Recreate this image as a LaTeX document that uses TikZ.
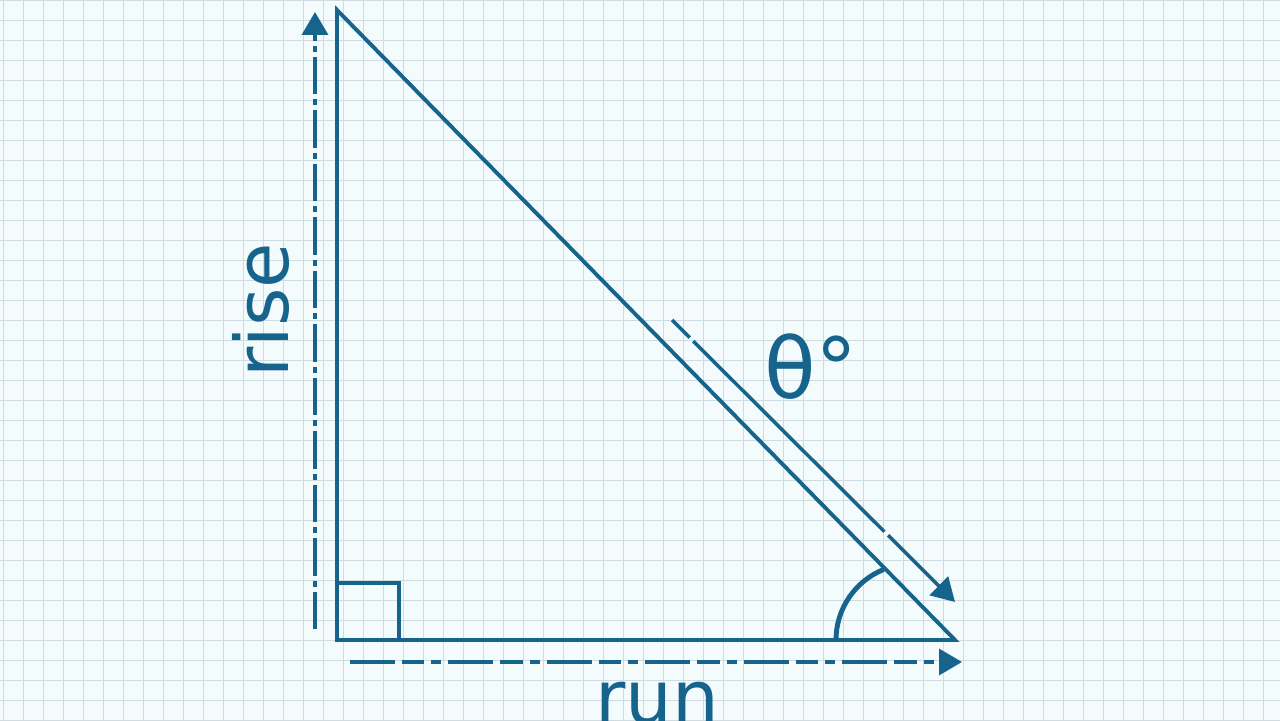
\documentclass[tikz,border=0pt]{standalone}
\usepackage{fontspec}
\setmainfont{DejaVu Sans}
\usepackage{tikz}
\usetikzlibrary{arrows.meta,calc,positioning}
\definecolor{ink}{RGB}{22,100,140}
\definecolor{paper}{RGB}{244,251,253}
\definecolor{gridcol}{RGB}{206,220,226}
\tikzset{%
	gridline/.style = {draw=gridcol, line width=0.55pt},
	side/.style     = {draw=ink, line width=2.2pt, line join=miter},
	guide/.style    = {draw=ink, line width=2pt, -{Triangle[length=0.46cm,width=0.52cm]}},
	marker/.style   = {draw=ink, line width=2.8pt},
	label/.style    = {text=ink, inner sep=0pt, font=\fontsize{42}{42}\selectfont},
}
\begin{document}
\begin{tikzpicture}[x=0.02cm,y=0.02cm]
	\clip (0,0) rectangle (1280,720);
	\fill[paper] (0,0) rectangle (1280,720);
	\foreach \gx in {3,23,...,1283} \draw[gridline] (\gx,0) -- (\gx,720);  % grid columns
	\foreach \gy in {0,20,...,720} \draw[gridline] (0,\gy) -- (1280,\gy);  % grid rows
	% corners of the triangle
	\coordinate (top) at (337,710);
	\coordinate (corner) at (337,80);
	\coordinate (right) at (955,80);
	\draw[side] (top) -- (corner) -- (right) -- cycle;
	\draw[marker] (corner) rectangle ++(62,57);  % right angle
	\draw[marker] (836,80) arc[start angle=180, end angle=112, radius=1.52cm];  % angle
	% guides along the sides
	\coordinate (riseA) at (315,91);
	\coordinate (riseB) at (315,708);
	\coordinate (runA) at (350,58);
	\coordinate (runB) at (962,58);
	\coordinate (hypA) at (672,400);
	\coordinate (hypB) at (955,118);
	\draw[guide, dash pattern=on 0.75cm off 0.1cm on 0.12cm off 0.1cm] (riseA) -- (riseB);
	\draw[guide, dash pattern=on 0.9cm off 0.14cm on 0.45cm off 0.14cm on 0.2cm off 0.14cm] (runA) -- (runB);
	\draw[guide, dash pattern=on 0.5cm off 0.1cm on 5.4cm off 0.1cm on 4cm] (hypA) -- (hypB);
	\node[label, rotate=90, anchor=base] (rise) at (288,410) {rise};
	\node[label, anchor=base] (run) at (657,-3) {run};
	\node[label, anchor=base west, font=\fontsize{48}{48}\selectfont] (angle) at (764,321) {θ°};
\end{tikzpicture}
\end{document}
